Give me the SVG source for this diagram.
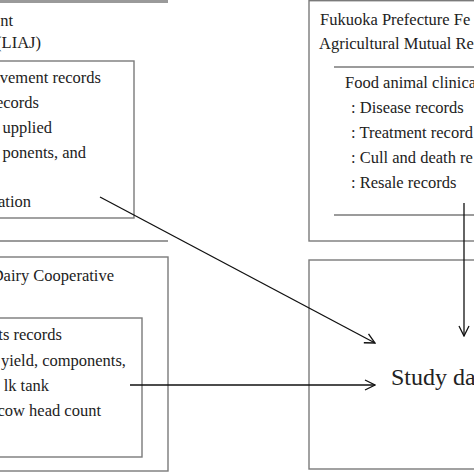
<svg xmlns="http://www.w3.org/2000/svg" width="474" height="474" viewBox="0 0 474 474">
<style>
.box{fill:none;stroke:#7a7a7a;stroke-width:1.4}
.t{font-family:"Liberation Serif","Times New Roman",serif;font-size:16.5px;fill:#222}
.e{text-anchor:end}
.big{font-size:24px}
.conn{fill:none;stroke:#111;stroke-width:1.3}
</style>
<defs>
<marker id="arr" viewBox="0 0 12 12" refX="11" refY="6" markerWidth="12" markerHeight="12" markerUnits="userSpaceOnUse" orient="auto">
<path d="M1,1 L11,6 L1,11" fill="none" stroke="#111" stroke-width="1.3"/>
</marker>
</defs>
<rect width="474" height="474" fill="#fff"/>
<g id="liaj">
<line x1="0" y1="1.5" x2="168" y2="1.5" stroke="#9a9a9a" stroke-width="3"/>
<line x1="0" y1="241" x2="168" y2="241" class="box"/>
<text class="t e" x="13" y="26">nt</text>
<text class="t e" x="41" y="48">(LIAJ)</text>
<rect class="box" x="-10" y="61" width="144" height="157"/>
<text class="t e" x="101" y="83">vement records</text>
<text class="t e" x="39" y="108">ecords</text>
<text class="t e" x="52" y="133">upplied</text>
<text class="t e" x="86" y="158">ponents, and</text>
<text class="t e" x="31" y="207">ation</text>
</g>
<g id="dairy">
<rect class="box" x="-10" y="257" width="178" height="214"/>
<text class="t e" x="114" y="281">Dairy Cooperative</text>
<rect class="box" x="-10" y="318" width="152" height="139"/>
<text class="t e" x="62" y="340">ts records</text>
<text class="t e" x="126" y="366">yield, components,</text>
<text class="t e" x="49" y="391">lk tank</text>
<text class="t e" x="101" y="416">cow head count</text>
</g>
<g id="fukuoka">
<rect class="box" x="309" y="0.7" width="180" height="240.3"/>
<text class="t" x="320" y="25">Fukuoka Prefecture Fe</text>
<text class="t" x="319" y="49">Agricultural Mutual Re</text>
<line class="box" x1="334" y1="67" x2="474" y2="67"/>
<text class="t" x="345" y="88">Food animal clinica</text>
<text class="t" x="351" y="113">: Disease records</text>
<text class="t" x="351" y="138">: Treatment record</text>
<text class="t" x="351" y="163">: Cull and death re</text>
<text class="t" x="351" y="188">: Resale records</text>
<line class="box" x1="334" y1="215" x2="474" y2="215"/>
</g>
<g id="study">
<rect class="box" x="309" y="260" width="180" height="209"/>
<text class="t big" x="391" y="385">Study da</text>
</g>
<g id="connectors">
<line class="conn" x1="100" y1="197" x2="375" y2="343" marker-end="url(#arr)"/>
<line class="conn" x1="130" y1="385" x2="375" y2="385" marker-end="url(#arr)"/>
<line class="conn" x1="464" y1="203" x2="464" y2="336" marker-end="url(#arr)"/>
</g>
</svg>
